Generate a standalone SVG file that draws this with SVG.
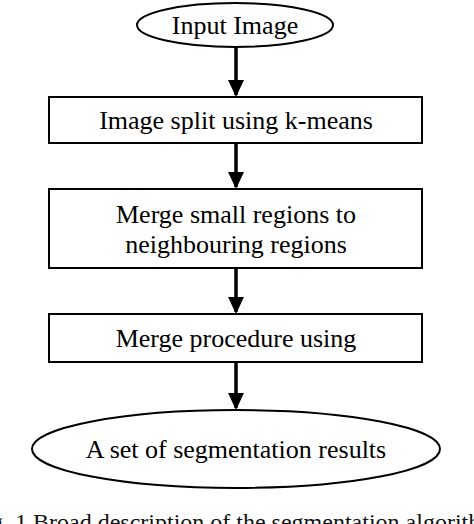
<svg xmlns="http://www.w3.org/2000/svg" width="474" height="524" viewBox="0 0 474 524">
<style>
.shape{fill:#fff;stroke:#000;stroke-width:2}
.lbl{font-family:"Liberation Serif","Times New Roman",serif;font-size:26px;fill:#000;text-anchor:middle}
.cap{font-family:"Liberation Serif","Times New Roman",serif;font-size:24px;fill:#111}
.conn{stroke:#000;stroke-width:3.5;fill:none;marker-end:url(#ah)}
</style>
<defs>
<marker id="ah" markerUnits="userSpaceOnUse" markerWidth="17" markerHeight="16" refX="15" refY="8" orient="auto" viewBox="0 0 17 16">
<path d="M0,0 L17,8 L0,16 Z" fill="#000"/>
</marker>
</defs>
<rect width="474" height="524" fill="#fff"/>
<g id="connectors">
<path class="conn" d="M236,48 V95"/>
<path class="conn" d="M236,143 V187"/>
<path class="conn" d="M236,268 V312"/>
<path class="conn" d="M236,362 V408"/>
</g>
<g id="input">
<ellipse class="shape" cx="235" cy="25" rx="98" ry="22"/>
<text class="lbl" x="235" y="34">Input Image</text>
</g>
<g id="split">
<rect class="shape" x="49" y="97" width="373" height="46"/>
<text class="lbl" x="236" y="129">Image split using k-means</text>
</g>
<g id="merge-small">
<rect class="shape" x="49" y="189" width="373" height="79"/>
<text class="lbl" x="236" y="223">Merge small regions to</text>
<text class="lbl" x="236" y="253">neighbouring regions</text>
</g>
<g id="merge-proc">
<rect class="shape" x="49" y="314" width="373" height="48"/>
<text class="lbl" x="236" y="347">Merge procedure using</text>
</g>
<g id="results">
<ellipse class="shape" cx="236" cy="449" rx="204" ry="39"/>
<text class="lbl" x="236" y="458">A set of segmentation results</text>
</g>
<text class="cap" x="-29" y="530">Fig. 1 Broad description of the segmentation algorithm</text>
</svg>
